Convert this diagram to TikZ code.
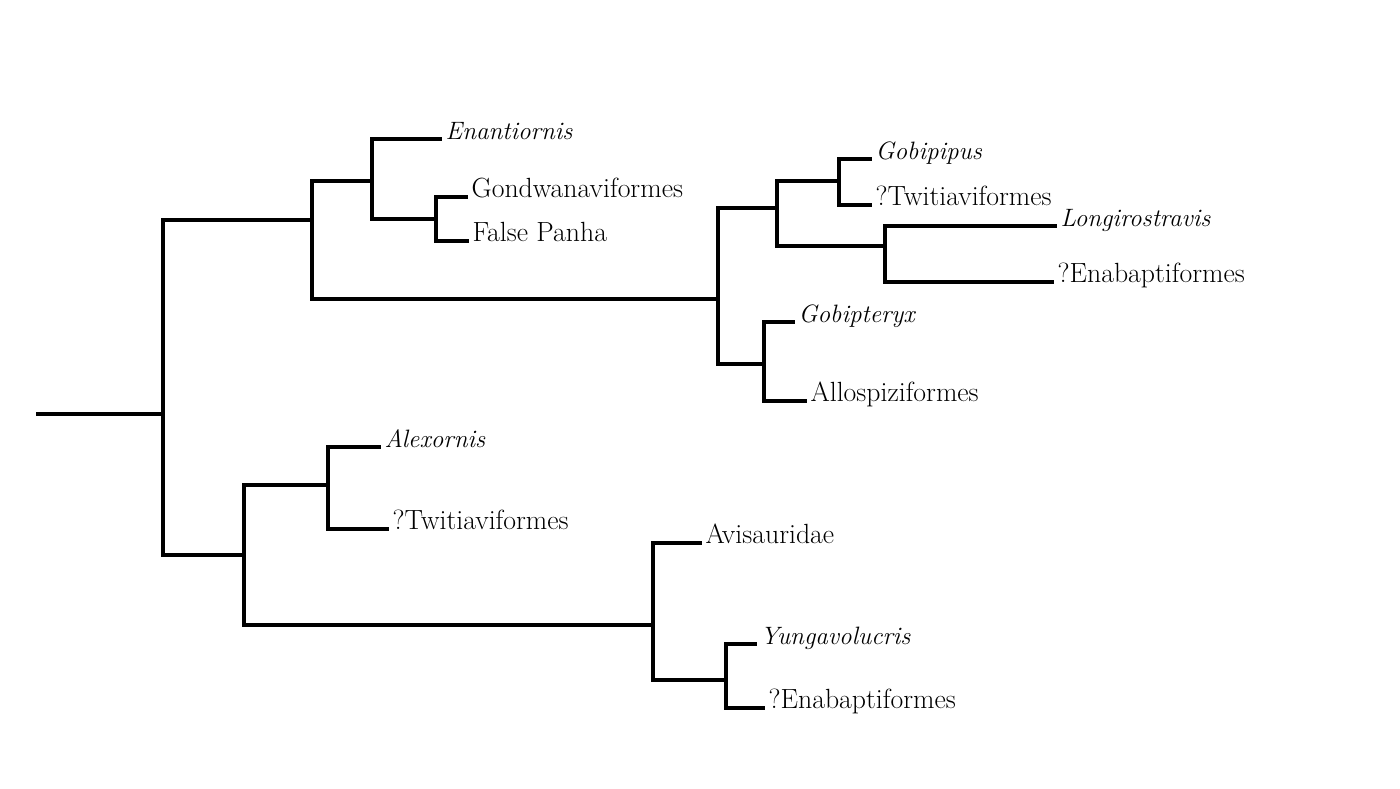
\documentclass[tikz,border=0pt]{standalone}
\usepackage{tikz}

\begin{document}
\begin{tikzpicture}[x=0.02cm,y=-0.02cm]
   \useasboundingbox (0,0) rectangle (1400,788);
   \tikzstyle{branch}=[line width=1.8pt, line cap=rect, black]
   \tikzstyle{taxon}=[anchor=base west, inner xsep=3pt, inner ysep=0pt, font=\fontsize{15.8}{18}\selectfont]
   \newcommand{\genus}[1]{{\fontsize{14.3}{17}\selectfont\itshape #1}}
   % inner nodes: x of the bar, y where it hangs from its parent
   \coordinate (stem) at (38,414);
   \coordinate (n0) at (163,414);
   \coordinate (up) at (312,220);
   \coordinate (ena) at (372,181);
   \coordinate (gp) at (436,219);
   \coordinate (eu) at (718,299);
   \coordinate (eua) at (777,208);
   \coordinate (gob) at (839,181);
   \coordinate (lon) at (885,246);
   \coordinate (gpt) at (764,364);
   \coordinate (low) at (244,555);
   \coordinate (alx) at (328,485);
   \coordinate (avi) at (653,625);
   \coordinate (yun) at (726,680);
   \foreach \i/\x/\y/\word in {enan/440/139/{\genus{Enantiornis}},
         gond/466/197/{Gondwanaviformes}, panha/467/241/{False Panha},
         gobipi/870/159/{\genus{Gobipipus}}, twit/870/205/{?Twitiaviformes},
         longi/1055/226/{\genus{Longirostravis}}, enab/1052/282/{?Enabaptiformes},
         gobipt/793/322/{\genus{Gobipteryx}}, allo/805/401/{Allospiziformes},
         alex/379/447/{\genus{Alexornis}}, twitb/387/529/{?Twitiaviformes},
         avis/700/543/{Avisauridae}, yunga/755/644/{\genus{Yungavolucris}},
         enabb/763/708/{?Enabaptiformes}} {
       \node[taxon] (\i) at (\x,\y) {\word};
   }
   \path[branch] (stem) edge (n0);
   \foreach \a/\b in {n0/up, n0/low, up/ena, up/eu, ena/gp, eu/eua, eu/gpt,
         eua/gob, eua/lon, low/alx, low/avi, avi/yun} {
       \draw[branch] (\a) |- (\b);
   }
   \foreach \a/\b in {ena/enan, gp/gond, gp/panha, gob/gobipi, gob/twit,
         lon/longi, lon/enab, gpt/gobipt, gpt/allo, alx/alex, alx/twitb,
         avi/avis, yun/yunga, yun/enabb} {
       \draw[branch] (\a) |- (\b.base west);
   }
\end{tikzpicture}
\end{document}
